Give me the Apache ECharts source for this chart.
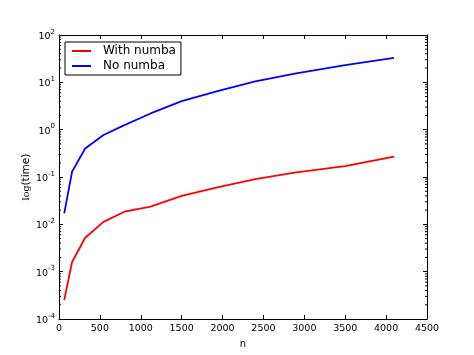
<!DOCTYPE html>
<html>
<head>
<meta charset="utf-8">
<script src="https://cdn.jsdelivr.net/npm/echarts@6/dist/echarts.min.js"></script>
<style>html,body{margin:0;padding:0;background:#fff}#c{width:474px;height:355px}</style>
</head>
<body>
<div id="c"></div>
<script>
const nValues = [64, 160, 320, 544, 800, 1120, 1500, 1950, 2400, 2900, 3500, 4096];
const withNumba = [0.00025, 0.0016, 0.0052, 0.0113, 0.0185, 0.0236, 0.040, 0.061, 0.090, 0.125, 0.17, 0.268];
const noNumba = [0.017, 0.13, 0.40, 0.77, 1.25, 2.2, 4.0, 6.6, 10.5, 15.5, 23, 33];
const seriesNames = ['With numba', 'No numba'];
const xTicks = [0, 500, 1000, 1500, 2000, 2500, 3000, 3500, 4000, 4500];
const yDecades = [-4, -3, -2, -1, 0, 1, 2];

const minorVals = [];
for (let d = yDecades[0]; d < yDecades[yDecades.length - 1]; d++) {
  for (let k = 2; k <= 9; k++) minorVals.push([0, k * Math.pow(10, d)]);
}

const chart = echarts.init(document.getElementById('c'), null, {renderer: 'canvas'});
const font = 'DejaVu Sans';
const axisLineStyle = {show: true, onZero: false, lineStyle: {color: '#000', width: 1}};
chart.setOption({
  animation: false,
  backgroundColor: '#fff',
  grid: {left: 59, right: 47, top: 35, bottom: 36, containLabel: false},
  legend: {
    data: seriesNames,
    orient: 'vertical',
    left: 65, top: 42,
    padding: [3, 5, 3, 7],
    itemGap: 3,
    itemWidth: 19, itemHeight: 2,
    icon: 'rect',
    borderColor: '#000', borderWidth: 1, borderRadius: 0,
    backgroundColor: '#fff',
    textStyle: {fontFamily: font, fontSize: 12, color: '#000', padding: [0, 0, 0, 7]}
  },
  xAxis: [
    {
      type: 'value', min: xTicks[0], max: xTicks[xTicks.length - 1], interval: 500,
      position: 'bottom',
      name: 'n', nameLocation: 'middle', nameGap: 20, nameMoveOverlap: false,
      nameTextStyle: {fontFamily: font, fontSize: 10, color: '#000'},
      axisLine: axisLineStyle, splitLine: {show: false},
      axisTick: {show: true, inside: true, length: 4, lineStyle: {color: '#000'}},
      axisLabel: {fontFamily: font, fontSize: 9.5, color: '#000', margin: 5,
        formatter: function (v) { return String(v); }}
    },
    {
      type: 'value', min: xTicks[0], max: xTicks[xTicks.length - 1], interval: 500,
      position: 'top',
      axisLine: axisLineStyle, splitLine: {show: false},
      axisTick: {show: true, inside: true, length: 4, lineStyle: {color: '#000'}},
      axisLabel: {show: false}
    }
  ],
  yAxis: [
    {
      type: 'log', logBase: 10, min: Math.pow(10, yDecades[0]), max: Math.pow(10, yDecades[yDecades.length - 1]),
      position: 'left',
      name: '{l|log}{t|(time)}', nameLocation: 'middle', nameGap: 27, nameRotate: 90, nameMoveOverlap: false,
      nameTextStyle: {
        rich: {
          l: {fontFamily: 'DejaVu Serif', fontSize: 9.5, color: '#000'},
          t: {fontFamily: font, fontSize: 10.5, color: '#000'}
        }
      },
      axisLine: axisLineStyle, splitLine: {show: false},
      axisTick: {show: true, inside: true, length: 4, lineStyle: {color: '#000'}},
      axisLabel: {
        margin: 4,
        formatter: function (v) {
          const e = Math.round(Math.log10(v));
          return '{b|10}{s|' + e + '}';
        },
        rich: {
          b: {fontFamily: font, fontSize: 9.5, color: '#000', verticalAlign: 'bottom'},
          s: {fontFamily: font, fontSize: 7, color: '#000', verticalAlign: 'top', padding: [0, 0, 6, 0]}
        }
      }
    },
    {
      type: 'log', logBase: 10, min: Math.pow(10, yDecades[0]), max: Math.pow(10, yDecades[yDecades.length - 1]),
      position: 'right',
      axisLine: axisLineStyle, splitLine: {show: false},
      axisTick: {show: true, inside: true, length: 4, lineStyle: {color: '#000'}},
      axisLabel: {show: false}
    }
  ],
  series: [
    {
      name: seriesNames[0], type: 'line', xAxisIndex: 0, yAxisIndex: 0,
      data: nValues.map((n, i) => [n, withNumba[i]]),
      symbol: 'none', lineStyle: {color: '#ff0000', width: 1.8}, itemStyle: {color: '#ff0000'}, z: 3
    },
    {
      name: seriesNames[1], type: 'line', xAxisIndex: 0, yAxisIndex: 0,
      data: nValues.map((n, i) => [n, noNumba[i]]),
      symbol: 'none', lineStyle: {color: '#0000ff', width: 1.8}, itemStyle: {color: '#0000ff'}, z: 3
    },
    {
      name: 'minorTicks', type: 'custom', xAxisIndex: 0, yAxisIndex: 0,
      data: minorVals, silent: true, clip: false,
      renderItem: function (params, api) {
        const v = api.value(1);
        const pl = api.coord([xTicks[0], v]);
        const pr = api.coord([xTicks[xTicks.length - 1], v]);
        const st = {stroke: '#000', lineWidth: 1};
        return {
          type: 'group',
          children: [
            {type: 'line', shape: {x1: pl[0], y1: pl[1], x2: pl[0] + 2, y2: pl[1]}, style: st},
            {type: 'line', shape: {x1: pr[0], y1: pr[1], x2: pr[0] - 2, y2: pr[1]}, style: st}
          ]
        };
      }
    }
  ]
});
</script>
</body>
</html>
